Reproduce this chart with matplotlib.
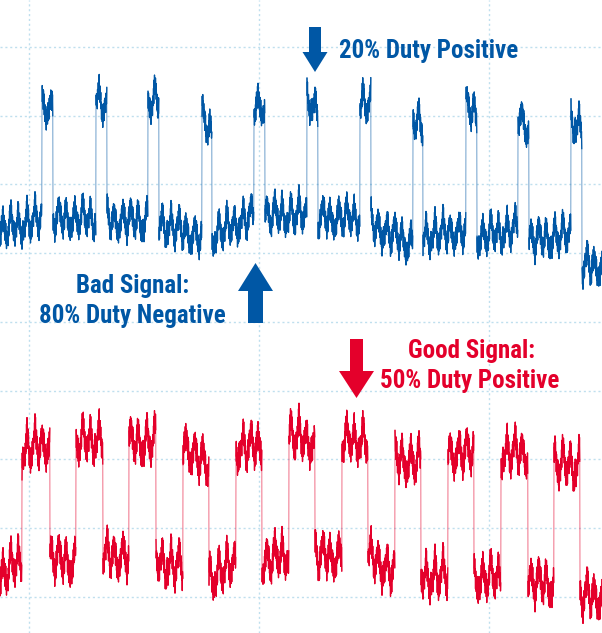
import numpy as np
import matplotlib
matplotlib.use("Agg")
import matplotlib.pyplot as plt
from matplotlib.patches import FancyArrow

# plateau edges (x, px) and plateau levels (y, px; start/end of each plateau)
blue_edges = [42, 53, 96, 107, 148, 159, 202, 212, 254, 265, 307, 318,
              360, 371, 413, 423, 466, 477, 518, 529, 571, 582]
blue_levels = [(228, 216), (100, 108), (216, 216), (93, 108), (218, 218),
               (100, 98), (220, 235), (115, 133), (233, 213), (102, 102),
               (213, 212), (93, 112), (215, 215), (100, 102), (222, 242),
               (115, 128), (233, 228), (105, 112), (235, 226), (112, 125),
               (238, 232), (115, 128), (263, 263)]

red_edges = [22, 50, 76, 103, 129, 156, 183, 209, 236, 262, 289, 315,
             342, 368, 395, 421, 448, 474, 501, 528, 554, 580]
red_levels = [(575, 555), (448, 440), (555, 560), (440, 435), (553, 553),
              (440, 438), (557, 565), (440, 465), (575, 560), (445, 443),
              (560, 550), (432, 440), (553, 553), (437, 437), (553, 570),
              (455, 460), (573, 573), (450, 450), (575, 575), (450, 450),
              (580, 580), (462, 462), (593, 593)]

# ripple shape riding on every plateau
coarse = [9, 3, -4, -11, -5, 2, 8, 12, 6, 0, -7, -13, -6, 1, 7, 10,
          4, -2, -9, -4, 3, 9, 13, 7]
jitter = [0, 7, -5, 9, -8, 4, -9, 6, -3, 8, -7, 2, -6, 5, -2, 10, -4]

W, H = 602, 633
BLUE = "#0057a5"
RED = "#e4002b"
GRID = "#bfdfee"


def trace(edges, levels, amp, step=0.25):
    bounds = [0] + edges + [W]
    segs = []
    k = 0
    for i, (y0, y1) in enumerate(levels):
        x = np.arange(bounds[i], bounds[i + 1], step)
        base = np.linspace(y0, y1, len(x))
        c = np.interp((x % len(coarse)), np.arange(len(coarse)), coarse)
        j = np.array([jitter[(k + n) % len(jitter)] for n in range(len(x))])
        k += len(x)
        segs.append((x, base + amp * (c + j)))
    return segs


def draw(segs, color):
    # thin light line for the whole trace (edges), solid plateaus on top
    ax.plot(np.concatenate([s[0] for s in segs]),
            np.concatenate([s[1] for s in segs]), color=color, lw=0.8, alpha=0.5)
    for x, y in segs:
        ax.plot(x, y, color=color, lw=0.9)


fig = plt.figure(figsize=(W / 100, H / 100), dpi=100)
ax = fig.add_axes([0, 0, 1, 1])
ax.set_xlim(0, W)
ax.set_ylim(H, 0)
ax.axis("off")

for gy in [47, 115.7, 184.4, 253, 321.8, 390.5, 459, 528, 596.6]:
    ax.axhline(gy, color=GRID, lw=1, ls=(0, (1.5, 2)), zorder=0)
for gx in [29, 259, 489]:
    ax.axvline(gx, color=GRID, lw=1, ls=(0, (1.5, 2)), zorder=0)

draw(trace(blue_edges, blue_levels, 1.25), BLUE)
draw(trace(red_edges, red_levels, 1.45), RED)

font = dict(family=["Roboto Condensed", "DejaVu Sans"], weight="bold",
            fontsize=18)
ax.text(339, 58, "20% Duty Positive", color=BLUE, ha="left", va="baseline", **font)
ax.text(132.5, 293, "Bad Signal:", color=BLUE, ha="center", va="baseline", **font)
ax.text(132.5, 323, "80% Duty Negative", color=BLUE, ha="center", va="baseline", **font)
ax.text(472, 358, "Good Signal:", color=RED, ha="center", va="baseline", **font)
ax.text(470, 388, "50% Duty Positive", color=RED, ha="center", va="baseline", **font)

ax.add_patch(FancyArrow(315, 27, 0, 45, width=12, head_width=25, head_length=20,
                        length_includes_head=True, color=BLUE, lw=0))
ax.add_patch(FancyArrow(255.5, 323, 0, -60, width=15, head_width=35, head_length=28,
                        length_includes_head=True, color=BLUE, lw=0))
ax.add_patch(FancyArrow(356.5, 339, 0, 59, width=13, head_width=35, head_length=27,
                        length_includes_head=True, color=RED, lw=0))

fig.savefig("out.png", dpi=100)
